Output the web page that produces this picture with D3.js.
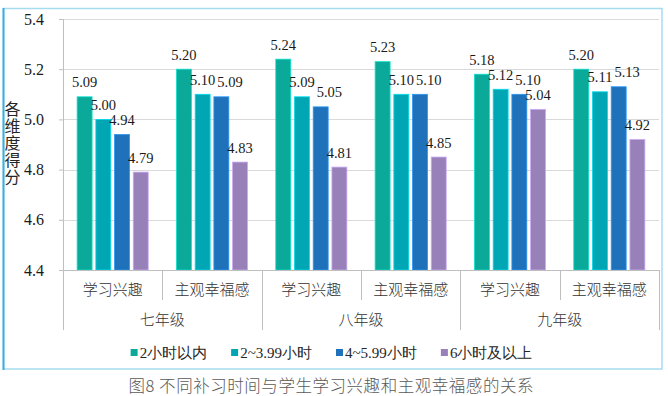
<!DOCTYPE html>
<html><head><meta charset="utf-8">
<script src="https://cdn.jsdelivr.net/npm/d3@7"></script>
<style>
html,body{margin:0;padding:0;background:#fff;}
svg{display:block;}
</style></head>
<body>
<svg id="chart" width="668" height="396"></svg>
<script>
const grades = ["七年级", "八年级", "九年级"];
const dims = ["学习兴趣", "主观幸福感"];
const series = ["2小时以内", "2~3.99小时", "4~5.99小时", "6小时及以上"];
// values per category (grade × dimension), one per series
const v2h    = [5.09, 5.20, 5.24, 5.23, 5.18, 5.20];
const v2to4  = [5.00, 5.10, 5.09, 5.10, 5.12, 5.11];
const v4to6  = [4.94, 5.09, 5.05, 5.10, 5.10, 5.13];
const v6plus = [4.79, 4.83, 4.81, 4.85, 5.04, 4.92];
const yTicks = [4.4, 4.6, 4.8, 5.0, 5.2, 5.4];
const yTitle = "各维度得分";
const caption = "图8 不同补习时间与学生学习兴趣和主观幸福感的关系";
const colors = ["#0aa99a", "#00a6b4", "#1f72ba", "#9880b8"];

(function () {
const seriesVals = [v2h, v2to4, v4to6, v6plus];
const cats = [];
grades.forEach(g => dims.forEach(d => cats.push(g + "|" + d)));

const svg = d3.select("#chart");
const SERIF = "Liberation Serif";
const SANS = "Noto Sans CJK SC";

// border
svg.append("rect").attr("x", 3.5).attr("y", 8.5).attr("width", 658.5).attr("height", 360.5)
  .attr("fill", "none").attr("stroke", "#a6dcef").attr("stroke-width", 1.5);
svg.append("line").attr("x1", 3.5).attr("x2", 3.5).attr("y1", 8).attr("y2", 370)
  .attr("stroke", "#3aaee0").attr("stroke-width", 2);

const pL = 63, pR = 659, pT = 19, pB = 270;
const y = d3.scaleLinear().domain([4.4, 5.4]).range([pB, pT]);
const x0 = d3.scaleBand().domain(cats).range([pL, pR]).padding(0);
const x1 = d3.scaleBand().domain(series).range([0, x0.bandwidth()]).paddingInner(0.2).paddingOuter(0.755);

// gridlines
svg.append("g").selectAll("line").data(yTicks.filter(t => t > 4.4)).join("line")
  .attr("x1", pL).attr("x2", pR)
  .attr("y1", d => Math.round(y(d)) + 0.5).attr("y2", d => Math.round(y(d)) + 0.5)
  .attr("stroke", "#d9d9d9").attr("stroke-width", 1);

// y axis
const yAxis = svg.append("g").attr("transform", `translate(${pL},0)`)
  .call(d3.axisLeft(y).tickValues(yTicks).tickFormat(d3.format(".1f")).tickSize(4).tickPadding(15));
yAxis.attr("font-family", SERIF).attr("font-size", 16);
yAxis.select(".domain").attr("stroke", "#bfbfbf");
yAxis.selectAll(".tick line").attr("stroke", "#bfbfbf");
yAxis.selectAll(".tick text").attr("font-family", SERIF).attr("font-size", 16).attr("fill", "#1a1a1a");

// bars
const catG = svg.append("g").selectAll("g").data(cats).join("g")
  .attr("transform", d => `translate(${x0(d)},0)`);
catG.selectAll("rect").data((d, ci) => series.map((s, si) => ({s, si, v: seriesVals[si][ci]}))).join("rect")
  .attr("x", d => x1(d.s)).attr("width", x1.bandwidth())
  .attr("y", d => y(d.v)).attr("height", d => pB - y(d.v))
  .attr("fill", d => colors[d.si])
  .attr("stroke", d => d3.color(colors[d.si]).brighter(0.8)).attr("stroke-width", 0.8);
catG.each(function (c, ci) {
  const placed = [];
  series.forEach((s, si) => {
    const v = seriesVals[si][ci];
    const t = d3.select(this).append("text")
      .attr("y", y(v) - 9.5).attr("font-family", SERIF).attr("font-size", 14.5).attr("fill", "#1a1a1a")
      .text(v.toFixed(2));
    const w = t.node().getComputedTextLength();
    let lft = x1(s) + x1.bandwidth() / 2 - w / 2;
    placed.forEach(p => {
      if (Math.abs(p.y - y(v)) < 12 && lft < p.r + 2) lft = p.r + 2;
    });
    t.attr("x", lft);
    placed.push({y: y(v), r: lft + w});
  });
});

// category axis
const ax = svg.append("g");
ax.append("line").attr("x1", pL).attr("x2", pR).attr("y1", pB + 0.5).attr("y2", pB + 0.5)
  .attr("stroke", "#bfbfbf");
const bounds = cats.map(c => x0(c)).concat([pR]);
bounds.forEach((bx, i) => {
  const long = i % 2 === 0;
  ax.append("line").attr("x1", Math.round(bx) + 0.5).attr("x2", Math.round(bx) + 0.5)
    .attr("y1", pB).attr("y2", long ? 330 : 300).attr("stroke", "#bfbfbf");
});
ax.selectAll("text.sub").data(cats).join("text").attr("class", "sub")
  .attr("x", d => x0(d) + x0.bandwidth() / 2).attr("y", 295)
  .attr("text-anchor", "middle").attr("font-family", SANS).attr("font-size", 15).attr("font-weight", 300)
  .attr("fill", "#333").text(d => d.split("|")[1]);
ax.selectAll("text.grade").data(grades).join("text").attr("class", "grade")
  .attr("x", g => x0(g + "|" + dims[0]) + x0.bandwidth()).attr("y", 325)
  .attr("text-anchor", "middle").attr("font-family", SANS).attr("font-size", 15).attr("font-weight", 300)
  .attr("fill", "#333").text(g => g);

// y title (vertical text)
svg.append("text").attr("x", 12.5).attr("y", 101)
  .attr("writing-mode", "tb").style("writing-mode", "vertical-rl").style("text-orientation", "upright")
  .attr("font-family", SANS).attr("font-size", 16).attr("letter-spacing", 1).attr("fill", "#262626")
  .text(yTitle);

// legend
const lg = svg.append("g");
const items = [];
series.forEach((s, i) => {
  const g = lg.append("g");
  g.append("rect").attr("x", 0).attr("y", 349).attr("width", 7).attr("height", 7).attr("fill", colors[i]);
  const t = g.append("text").attr("x", 9).attr("y", 358).attr("font-family", SERIF).attr("font-size", 15)
    .attr("fill", "#262626").text(s);
  const w = 9 + t.node().getComputedTextLength();
  items.push({g, w});
});
const gap = 24;
const total = items.reduce((a, b) => a + b.w, 0) + gap * (items.length - 1);
let lx = 331.5 - total / 2;
items.forEach(it => { it.g.attr("transform", `translate(${lx},0)`); lx += it.w + gap; });

// caption
svg.append("text").attr("x", 331).attr("y", 392).attr("text-anchor", "middle")
  .attr("font-family", SANS).attr("font-size", 16.5).attr("font-weight", 300).attr("fill", "#595959")
  .attr("textLength", 405).attr("lengthAdjust", "spacing")
  .text(caption);
})();
</script>
</body></html>
